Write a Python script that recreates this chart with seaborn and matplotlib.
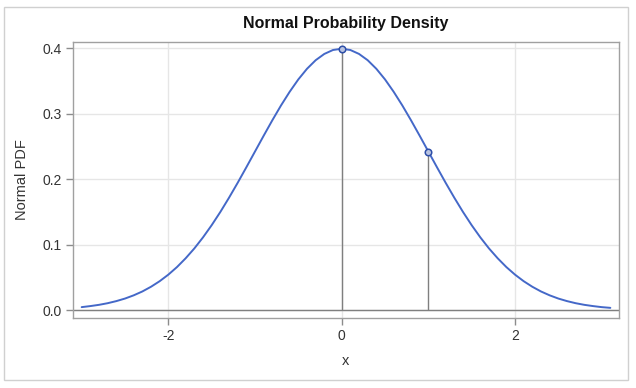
import matplotlib
matplotlib.use("Agg")
import matplotlib.pyplot as plt
import seaborn as sns
import pandas as pd
from matplotlib.patches import Rectangle

# Curve values
x_vals = [-3.0, -2.9, -2.8, -2.7, -2.6, -2.5, -2.4, -2.3, -2.2, -2.1, -2.0,
          -1.9, -1.8, -1.7, -1.6, -1.5, -1.4, -1.3, -1.2, -1.1, -1.0,
          -0.9, -0.8, -0.7, -0.6, -0.5, -0.4, -0.3, -0.2, -0.1, 0.0,
          0.1, 0.2, 0.3, 0.4, 0.5, 0.6, 0.7, 0.8, 0.9, 1.0,
          1.1, 1.2, 1.3, 1.4, 1.5, 1.6, 1.7, 1.8, 1.9, 2.0,
          2.1, 2.2, 2.3, 2.4, 2.5, 2.6, 2.7, 2.8, 2.9, 3.0, 3.1]
pdf_vals = [0.0044, 0.0060, 0.0079, 0.0104, 0.0136, 0.0175, 0.0224, 0.0283, 0.0355, 0.0440, 0.0540,
            0.0656, 0.0790, 0.0940, 0.1109, 0.1295, 0.1497, 0.1714, 0.1942, 0.2179, 0.2420,
            0.2661, 0.2897, 0.3123, 0.3332, 0.3521, 0.3683, 0.3814, 0.3910, 0.3970, 0.3989,
            0.3970, 0.3910, 0.3814, 0.3683, 0.3521, 0.3332, 0.3123, 0.2897, 0.2661, 0.2420,
            0.2179, 0.1942, 0.1714, 0.1497, 0.1295, 0.1109, 0.0940, 0.0790, 0.0656, 0.0540,
            0.0440, 0.0355, 0.0283, 0.0224, 0.0175, 0.0136, 0.0104, 0.0079, 0.0060, 0.0044, 0.0033]

# Highlighted points with drop lines
pt_x = [0.0, 1.0]
pt_y = [0.3989, 0.2420]

x_ticks = [-2, 0, 2]
y_ticks = [0.0, 0.1, 0.2, 0.3, 0.4]

sns.set_theme(style="white")
plt.rcParams["font.family"] = ["Liberation Sans", "DejaVu Sans"]
plt.rcParams["axes.unicode_minus"] = False

curve = pd.DataFrame({"x": x_vals, "pdf": pdf_vals})
pts = pd.DataFrame({"x": pt_x, "pdf": pt_y})

fig = plt.figure(figsize=(6.36, 3.88), dpi=100)
ax = fig.add_axes([73/636, 1-318/388, (619-73)/636, (318-42)/388])

# outer border
fig.patches.append(Rectangle((4/636, 1-380/388), (628-4)/636, (380-7)/388,
                             transform=fig.transFigure, fill=False,
                             edgecolor="#d0d0d0", linewidth=1.0))

ax.set_xlim(-3.1, 3.2)
ax.set_ylim(-0.0122, 0.4092)

for t in x_ticks:
    ax.axvline(t, color="#e6e6e6", linewidth=1.0, zorder=0)
for t in y_ticks:
    ax.axhline(t, color="#e6e6e6", linewidth=1.0, zorder=0)

ax.vlines(pts["x"], 0, pts["pdf"], color="#7f7f7f", linewidth=1.0, zorder=1)
ax.axhline(0, color="#7f7f7f", linewidth=1.0, zorder=1)

sns.lineplot(data=curve, x="x", y="pdf", ax=ax, color="#4468C8", linewidth=1.4, zorder=2)
sns.scatterplot(data=pts, x="x", y="pdf", ax=ax, marker="o", s=22,
                facecolor="#b9c3e0", edgecolor="#2E4FA8", linewidth=1.1, zorder=3)

ax.set_xticks(x_ticks)
ax.set_xticklabels([f"{t:d}" for t in x_ticks])
ax.set_yticks(y_ticks)
ax.set_yticklabels([f"{t:.1f}" for t in y_ticks])
ax.tick_params(axis="both", which="major", direction="out", length=5, width=1,
               color="#8c8c8c", labelsize=10, labelcolor="#333333", pad=3,
               bottom=True, left=True)

for s in ax.spines.values():
    s.set_color("#a0a0a0")
    s.set_linewidth(1.0)

ax.set_xlabel("x", fontsize=10.5, color="#333333", labelpad=8)
ax.set_ylabel("Normal PDF", fontsize=10.5, color="#333333", labelpad=10)
ax.set_title("Normal Probability Density", fontsize=11.5, fontweight="bold",
             color="#111111", pad=10,
             family=["Liberation Sans Narrow", "Liberation Sans", "DejaVu Sans"])

fig.savefig("out.png", dpi=100)
